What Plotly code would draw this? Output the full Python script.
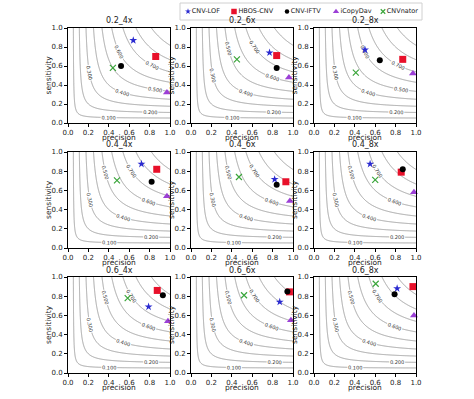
import numpy as np
import plotly.graph_objects as go

panels = ["0.2_4x", "0.2_6x", "0.2_8x", "0.4_4x", "0.4_6x", "0.4_8x", "0.6_4x", "0.6_6x", "0.6_8x"]
methods = ["CNV-LOF", "HBOS-CNV", "CNV-IFTV", "iCopyDav", "CNVnator"]

# precision / sensitivity per method, in panel order
lof_p = [0.64, 0.77, 0.50, 0.72, 0.82, 0.55, 0.79, 0.87, 0.815]
lof_s = [0.87, 0.74, 0.77, 0.875, 0.715, 0.875, 0.69, 0.74, 0.88]
hbos_p = [0.86, 0.84, 0.87, 0.87, 0.93, 0.855, 0.875, 0.965, 0.97]
hbos_s = [0.70, 0.71, 0.67, 0.82, 0.69, 0.79, 0.86, 0.845, 0.90]
iftv_p = [0.52, 0.84, 0.645, 0.82, 0.84, 0.87, 0.93, 0.945, 0.79]
iftv_s = [0.60, 0.58, 0.66, 0.69, 0.66, 0.82, 0.81, 0.85, 0.82]
icd_p = [0.97, 0.96, 0.97, 0.97, 0.97, 0.98, 0.98, 0.98, 0.98]
icd_s = [0.32, 0.48, 0.52, 0.54, 0.49, 0.58, 0.54, 0.55, 0.60]
nator_p = [0.44, 0.45, 0.41, 0.48, 0.47, 0.60, 0.585, 0.52, 0.605]
nator_s = [0.58, 0.67, 0.53, 0.705, 0.74, 0.71, 0.78, 0.81, 0.93]

f1_levels = [0.1, 0.9, 0.1]  # start, end, step
tick_vals = [0, 0.2, 0.4, 0.6, 0.8, 1.0]
tick_text = ["0.0", "0.2", "0.4", "0.6", "0.8", "1.0"]

series = [
    ("CNV-LOF", lof_p, lof_s, dict(symbol="star", size=6, color="#2a2ad0")),
    ("HBOS-CNV", hbos_p, hbos_s, dict(symbol="square", size=7, color="#e8102a")),
    ("CNV-IFTV", iftv_p, iftv_s, dict(symbol="circle", size=6, color="#000000")),
    ("iCopyDav", icd_p, icd_s, dict(symbol="triangle-up", size=7, color="#9b3fd6")),
    ("CNVnator", nator_p, nator_s, dict(symbol="x-thin", size=6, color="#3aa53a", line=dict(width=1.2, color="#3aa53a"))),
]

W, H = 474, 399
FONT = "DejaVu Sans"
xdom = [(68, 170), (191, 293), (314, 416)]
ydom = [(28, 123), (152, 248), (277, 373)]

g = np.linspace(0.005, 1.0, 200)
PX, SY = np.meshgrid(g, g)
F1 = 2 * PX * SY / (PX + SY)

fig = go.Figure()
annotations = []
for i, name in enumerate(panels):
    r, c = divmod(i, 3)
    k = i + 1
    xa = "x" if k == 1 else f"x{k}"
    ya = "y" if k == 1 else f"y{k}"
    fig.add_trace(go.Contour(
        x=g, y=g, z=F1, xaxis=xa, yaxis=ya,
        contours=dict(start=f1_levels[0], end=f1_levels[1], size=f1_levels[2],
                      coloring="lines", showlabels=True, labelformat=".3f",
                      labelfont=dict(size=5, color="#333333", family=FONT)),
        line=dict(width=0.9, smoothing=1),
        colorscale=[[0, "#9a9a9a"], [1, "#9a9a9a"]],
        showscale=False, hoverinfo="skip", showlegend=False))
    for sname, px_, sy_, mk in series:
        fig.add_trace(go.Scatter(
            x=[px_[i]], y=[sy_[i]], mode="markers", name=sname,
            marker=mk, xaxis=xa, yaxis=ya, showlegend=False, cliponaxis=False))
    x0, x1 = xdom[c]
    y0, y1 = ydom[r]
    axcommon = dict(range=[0, 1], tickvals=tick_vals, ticktext=tick_text,
                    showgrid=False, zeroline=False, showline=True, mirror=True,
                    linecolor="black", linewidth=0.8, ticks="outside", ticklen=3,
                    tickwidth=0.8, tickcolor="black", automargin=False,
                    tickfont=dict(size=7, family=FONT, color="#222"))
    fig.layout[("xaxis" if k == 1 else f"xaxis{k}")] = dict(axcommon, domain=[x0 / W, x1 / W], anchor=ya)
    fig.layout[("yaxis" if k == 1 else f"yaxis{k}")] = dict(axcommon, domain=[1 - y1 / H, 1 - y0 / H], anchor=xa)
    annotations.append(dict(text=name, x=(x0 + x1) / 2 / W, y=1 - (y0 - 7) / H,
                            xref="paper", yref="paper", xanchor="center", yanchor="middle",
                            showarrow=False, font=dict(size=8, family=FONT, color="#222")))
    annotations.append(dict(text="precision", x=(x0 + x1) / 2 / W, y=1 - (y1 + 14.5) / H,
                            xref="paper", yref="paper", xanchor="center", yanchor="middle",
                            showarrow=False, font=dict(size=7.5, family=FONT, color="#222")))
    annotations.append(dict(text="sensitivity", x=(x0 - 20) / W, y=1 - (y0 + y1) / 2 / H,
                            xref="paper", yref="paper", xanchor="center", yanchor="middle",
                            textangle=-90, showarrow=False,
                            font=dict(size=7.5, family=FONT, color="#222")))

# legend drawn on its own axis (pixel coordinates of the legend box)
leg_x = [188, 234, 287, 336, 383]
fig.layout["xaxis10"] = dict(domain=[180 / W, 422 / W], range=[180, 422], visible=False, fixedrange=True)
fig.layout["yaxis10"] = dict(domain=[1 - 20 / H, 1 - 3 / H], range=[0, 1], visible=False, fixedrange=True, anchor="x10")
fig.layout["xaxis10"]["anchor"] = "y10"
for (sname, _, _, mk), lx in zip(series, leg_x):
    m = dict(mk)
    m["size"] = max(4, mk["size"] - 1.5)
    fig.add_trace(go.Scatter(x=[lx], y=[0.5], mode="markers+text", text=[sname],
                             textposition="middle right",
                             textfont=dict(size=6.5, family=FONT, color="#222"),
                             marker=m, xaxis="x10", yaxis="y10", showlegend=False,
                             hoverinfo="skip", cliponaxis=False))

shapes = [dict(type="rect", xref="paper", yref="paper", x0=180 / W, x1=422 / W,
               y0=1 - 20 / H, y1=1 - 3 / H, line=dict(color="#d0d0d0", width=1),
               fillcolor="rgba(0,0,0,0)", layer="below")]

fig.update_layout(
    width=W, height=H, margin=dict(l=0, r=0, t=0, b=0),
    paper_bgcolor="white", plot_bgcolor="white",
    annotations=annotations, shapes=shapes, showlegend=False,
)
fig.write_html("out.html", config={"displayModeBar": False},
               post_script="document.body.style.margin='0';document.body.style.overflow='hidden';")
